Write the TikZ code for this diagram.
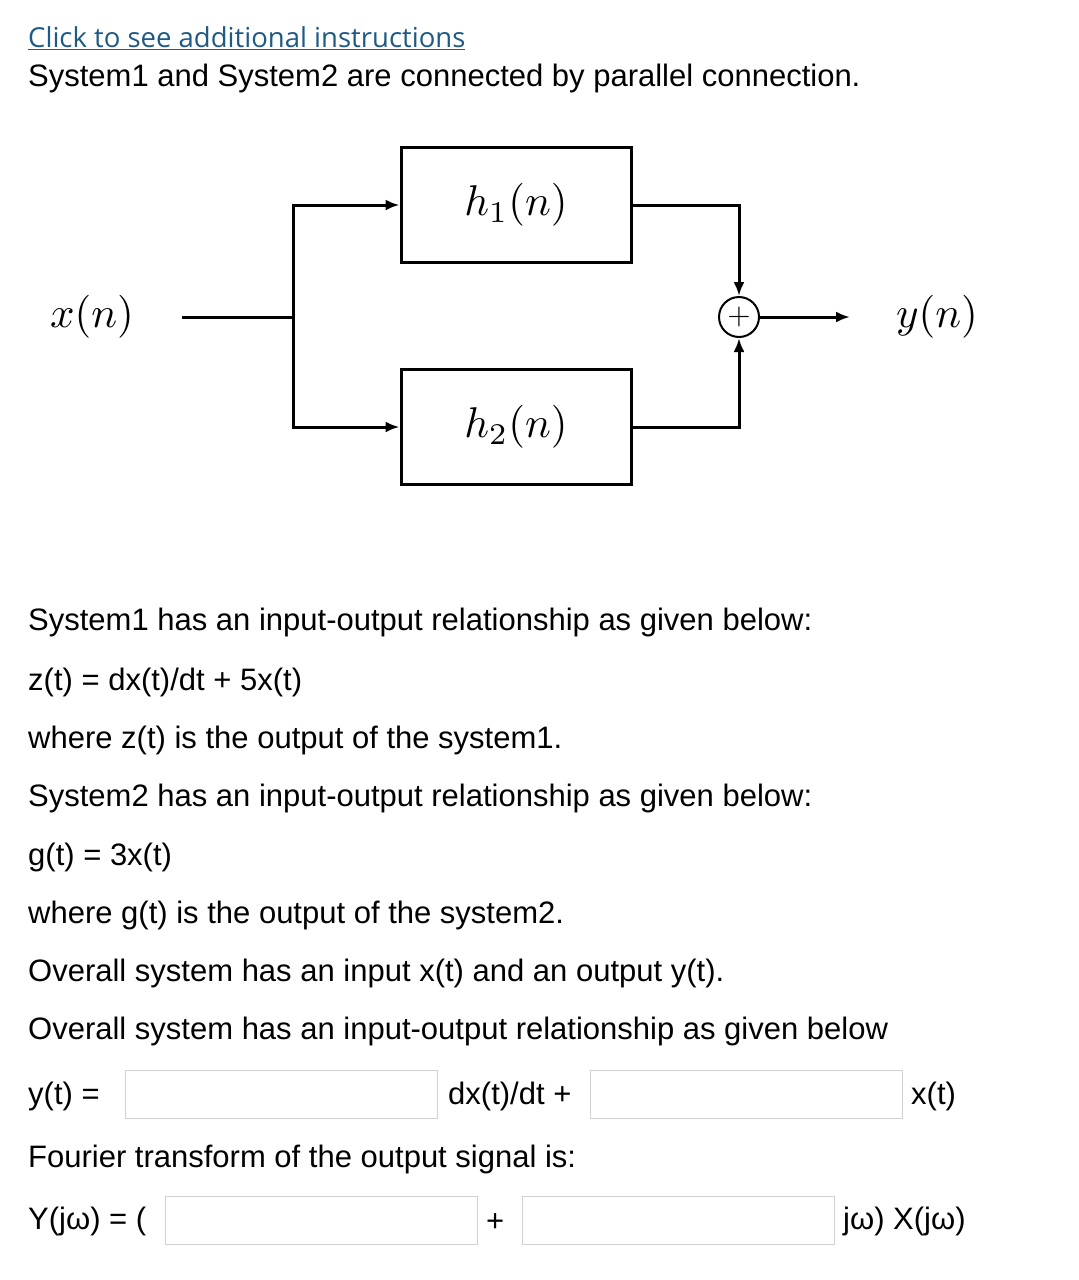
\documentclass[tikz,border=0pt]{standalone}
\usepackage{fontspec}
\setmainfont{Liberation Sans}
\newfontfamily\linkfont{Open Sans}
\usetikzlibrary{arrows.meta}
\definecolor{linkc}{HTML}{1F5A85}
\begin{document}
\begin{tikzpicture}[x=1pt,y=-1pt,
  txt/.style={anchor=west,inner sep=0pt,font=\fontsize{31}{34}\selectfont},
  sysbox/.style={draw,line width=3pt,minimum width=230pt,minimum height=115pt},
  mlab/.style={scale=4.3},
  wire/.style={line width=3pt},
  arr/.style={wire,-{Latex[length=14pt,width=11pt]}},
  field/.style={draw=black!18,line width=1pt,minimum width=312pt,minimum height=48pt,anchor=north west}]
\useasboundingbox[fill=white] (0,0) rectangle (1079,1280);
\node[anchor=west,inner sep=0pt,text=linkc,font=\linkfont\fontsize{27.5}{30}\selectfont] (link) at (28,38) {\underline{Click to see additional instructions}};
\node[txt] (t0) at (28,78) {System1 and System2 are connected by parallel connection.};
% diagram
\node[sysbox] (h1) at (516,205) {};
\node[mlab] at (h1) {$h_1(n)$};
\node[sysbox] (h2) at (516,427) {};
\node[mlab] at (h2) {$h_2(n)$};
\node[mlab] (x) at (92,317) {$x(n)$};
\node[mlab] (y) at (937,317) {$y(n)$};
\node[draw,circle,line width=2pt,minimum size=40pt,inner sep=0pt] (sum) at (739,317) {};
\node[scale=3] at (sum) {$+$};
\coordinate (in1) at (182,317);
\coordinate (sp) at (293,317);
\coordinate (out) at (850,317);
\draw[wire] (in1) -- (sp);
\draw[arr] (sp) |- (h1.west);
\draw[arr] (sp) |- (h2.west);
\draw[arr] (h1.east) -| (sum.north);
\draw[arr] (h2.east) -| (sum.south);
\draw[arr] (sum.east) -- (out);
% text
\node[txt] at (28,622) {System1 has an input-output relationship as given below:};
\node[txt] at (28,682) {z(t) = dx(t)/dt + 5x(t)};
\node[txt] at (28,740) {where z(t) is the output of the system1.};
\node[txt] at (28,798) {System2 has an input-output relationship as given below:};
\node[txt] at (28,857) {g(t) = 3x(t)};
\node[txt] at (28,915) {where g(t) is the output of the system2.};
\node[txt] at (28,973) {Overall system has an input x(t) and an output y(t).};
\node[txt] at (28,1031) {Overall system has an input-output relationship as given below};
\node[txt] at (28,1096) {y(t) =};
\node[field] (f1) at (125,1070) {};
\node[txt] at (448,1096) {dx(t)/dt +};
\node[field] (f2) at (590,1070) {};
\node[txt] at (911,1096) {x(t)};
\node[txt] at (28,1159) {Fourier transform of the output signal is:};
\node[txt] at (28,1221) {Y(jω) = (};
\node[field] (f3) at (165,1196) {};
\node[txt] at (486,1223) {+};
\node[field] (f4) at (522,1196) {};
\node[txt] at (843,1221) {jω) X(jω)};
\end{tikzpicture}
\end{document}
